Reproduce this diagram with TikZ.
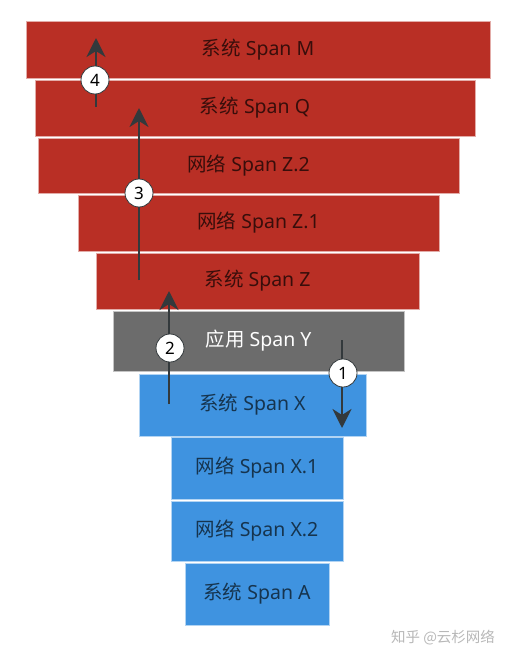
\documentclass[tikz,border=0pt]{standalone}
\usepackage{fontspec}
\setmainfont{Noto Sans}
\newfontfamily\cjk{Noto Sans CJK SC}
\usetikzlibrary{arrows.meta,positioning,calc}

\definecolor{spanred}{HTML}{B92F25}
\definecolor{spangray}{HTML}{6C6C6C}
\definecolor{spanblue}{HTML}{3F93E0}
\definecolor{arrowgray}{HTML}{33393C}

\tikzset{
	span/.style={fill=#1, draw=#1!40!white, line width=1pt, inner sep=0pt,
		font=\fontsize{19.5}{21}\selectfont},
	sysred/.style={span=spanred, text=spanred!30!black},
	appgray/.style={span=spangray, text=white},
	sysblue/.style={span=spanblue, text=spanblue!35!black},
	flow/.style={arrowgray, line width=2.6pt, -{Stealth[length=19pt, width=19pt, inset=6pt]}},
	badge/.style={circle, fill=white, draw=arrowgray, line width=0.8pt, minimum size=28pt,
		inner sep=0pt, font=\fontsize{17}{17}\selectfont}
}

\begin{document}
\begin{tikzpicture}[x=1pt, y=-1pt]
		\useasboundingbox[fill=white] (0,0) rectangle (512,661);
		% red spans
		\node[sysred, minimum width=464pt, minimum height=56pt] (m) at (258,50) {{\cjk 系统} Span M};
		\node[sysred, minimum width=440pt, minimum height=56pt] (q) at (255,108) {{\cjk 系统} Span Q};
		\node[sysred, minimum width=421pt, minimum height=55pt] (z2) at (248.5,165.5) {{\cjk 网络} Span Z.2};
		\node[sysred, minimum width=361pt, minimum height=56pt] (z1) at (258.5,223) {{\cjk 网络} Span Z.1};
		\node[sysred, minimum width=323pt, minimum height=56pt] (z) at (257.5,281) {{\cjk 系统} Span Z};
		% application span
		\node[appgray, minimum width=291pt, minimum height=60pt] (y) at (258.5,341) {{\cjk 应用} Span Y};
		% blue spans
		\node[sysblue, minimum width=227pt, minimum height=62pt] (x) at (252.5,405) {{\cjk 系统} Span X};
		\node[sysblue, minimum width=172pt, minimum height=62pt] (x1) at (257,468) {{\cjk 网络} Span X.1};
		\node[sysblue, minimum width=172pt, minimum height=60pt] (x2) at (257,531) {{\cjk 网络} Span X.2};
		\node[sysblue, minimum width=144pt, minimum height=62pt] (a) at (257,594) {{\cjk 系统} Span A};

		% call flow
		\coordinate (f1s) at (342,340);
		\coordinate (f1e) at (342,428);
		\coordinate (f2s) at (169,404);
		\coordinate (f2e) at (169,291);
		\coordinate (f3s) at (139,280);
		\coordinate (f3e) at (139,108);
		\coordinate (f4s) at (96,107);
		\coordinate (f4e) at (96,38);
		\draw[flow] (f1s) -- (f1e);
		\draw[flow] (f2s) -- (f2e);
		\draw[flow] (f3s) -- (f3e);
		\draw[flow] (f4s) -- (f4e);
		\node[badge] (b1) at (343,373) {1};
		\node[badge] (b2) at (170,348) {2};
		\node[badge] (b3) at (139,193) {3};
		\node[badge] (b4) at (95,80) {4};

		\node[text=black!28, font=\cjk\fontsize{14.5}{15}\selectfont] (mark) at (443,638) {知乎 @云杉网络};
	\end{tikzpicture}
\end{document}
